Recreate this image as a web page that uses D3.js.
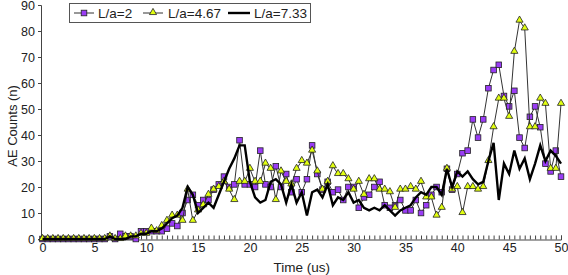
<!DOCTYPE html>
<html>
<head>
<meta charset="utf-8">
<script src="https://cdn.jsdelivr.net/npm/d3@7"></script>
<style>
    body { margin: 0; background: #fff; }
    svg { font-family: Arial, "Liberation Sans", Helvetica, sans-serif; }
</style>
</head>
<body>
<div id="chart"></div>
<script>
// time axis: 0 to 50 us, one sample every 0.5 us
const times = d3.range(0, 50.01, 0.5);

const seriesNames = ["L/a=2", "L/a=4.67", "L/a=7.33"];

const la2 = [0, 0, 0, 0, 0, 0, 0, 0, 0, 0, 0, 0, 0,
    1, 0, 2, 1, 1, 0, 3, 3, 3, 3, 3, 4, 6, 5, 10, 15, 17, 13, 15, 15, 19, 21, 24, 20, 21,
    38, 21, 21, 20, 34, 21, 20, 28, 20, 25, 18, 23, 18, 23, 36, 25, 19, 22, 18, 19, 15,
    20, 20, 12, 16, 17, 20, 22, 13, 12, 13, 15, 11, 11, 15, 10, 13, 17, 20, 18, 27, 19,
    25, 33, 34, 46, 39, 46, 58, 65, 67, 55, 51, 57, 39, 35, 47, 51, 43, 29, 26, 34, 24];

const la467 = [0, 0, 0, 0, 0, 0, 0, 0, 0, 0, 0, 0, 0,
    1, 0, 0, 1, 1, 1, 2, 2, 4, 3, 5, 7, 9, 9, 7, 19, 7, 11, 13, 17, 19, 20, 22, 19, 15,
    22, 22, 27, 22, 22, 29, 27, 15, 26, 22, 21, 27, 30, 29, 34, 26, 19, 22, 28, 25, 25,
    23, 19, 22, 17, 23, 23, 19, 19, 18, 12, 19, 19, 20, 19, 22, 16, 16, 9, 12, 27, 19,
    20, 10, 20, 20, 19, 20, 30, 43, 54, 54, 47, 72, 84, 81, 43, 43, 54, 52, 27, 27, 52];

const la733 = [0, 0, 0, 0, 0, 0, 0, 0, 0, 0, 0, 0, 0,
    1, 0, 0, 0, 1, 1, 2, 2, 3, 3, 4, 6, 8, 9, 12, 20, 17, 10, 12, 14, 12, 17, 22, 27, 31,
    36, 36, 22, 16, 14, 15, 22, 23, 21, 14, 21, 14, 18, 9, 18, 19, 16, 21, 13, 16, 15,
    18, 14, 15, 12, 11, 12, 11, 13, 11, 9, 11, 12, 13, 16, 18, 17, 20, 20, 17, 27, 20,
    26, 24, 26, 23, 21, 22, 30, 37, 15, 29, 25, 34, 27, 31, 23, 29, 36, 30, 34, 32, 29];

const xTicks = d3.range(0, 50.01, 5);
const yTicks = d3.range(0, 90.01, 10);

const width = 568, height = 275;
const margin = {top: 5, right: 7, bottom: 36, left: 42.5};

const svg = d3.select("#chart").append("svg")
    .attr("width", width)
    .attr("height", height);

const x = d3.scaleLinear()
    .domain([0, 50])
    .range([margin.left, width - margin.right]);

const y = d3.scaleLinear()
    .domain([0, 90])
    .range([height - margin.bottom, margin.top]);

// y axis, ticks point outwards
const yAxis = svg.append("g")
    .attr("transform", "translate(" + (margin.left - 1.5) + ",0)")
    .call(d3.axisLeft(y).tickValues(yTicks).tickSize(3).tickPadding(3));
yAxis.select(".domain").attr("stroke", "#444");
yAxis.selectAll(".tick line").attr("stroke", "#444");
yAxis.selectAll("text")
    .attr("font-size", "12.5px")
    .attr("fill", "#222");

// x axis, small ticks at every sample pointing up
const xAxis = svg.append("g")
    .attr("transform", "translate(0," + (y(0) + 0.5) + ")")
    .call(d3.axisBottom(x)
        .tickValues(times)
        .tickSize(-4)
        .tickPadding(4)
        .tickFormat(d => (d % 5 === 0 ? d : "")));
xAxis.select(".domain").attr("stroke", "#444");
xAxis.selectAll(".tick line").attr("stroke", "#444");
xAxis.selectAll("text")
    .attr("font-size", "12.5px")
    .attr("fill", "#222");

svg.append("text")
    .attr("x", x(25))
    .attr("y", 272)
    .attr("text-anchor", "middle")
    .attr("font-size", "13.5px")
    .attr("fill", "#222")
    .text("Time (us)");

svg.append("text")
    .attr("transform", "translate(17," + y(43.5) + ") rotate(-90)")
    .attr("text-anchor", "middle")
    .attr("font-size", "13px")
    .attr("fill", "#222")
    .text("AE Counts (n)");

const line = d3.line()
    .x((d, i) => x(times[i]))
    .y(d => y(d));

const squareColor = "#9a3cf5";
const triColor = "#e2ff10";

// L/a=2
svg.append("path")
    .datum(la2)
    .attr("fill", "none")
    .attr("stroke", "#333")
    .attr("stroke-width", 1)
    .attr("d", line);
svg.append("g").selectAll("rect")
    .data(la2)
    .join("rect")
    .attr("x", (d, i) => x(times[i]) - 2.8)
    .attr("y", d => y(d) - 2.8)
    .attr("width", 5.6)
    .attr("height", 5.6)
    .attr("fill", squareColor)
    .attr("stroke", "#222")
    .attr("stroke-width", 0.8);

// L/a=4.67
const tri = d3.symbol().type(d3.symbolTriangle).size(22);
svg.append("path")
    .datum(la467)
    .attr("fill", "none")
    .attr("stroke", "#333")
    .attr("stroke-width", 1)
    .attr("d", line);
svg.append("g").selectAll("path")
    .data(la467)
    .join("path")
    .attr("transform", (d, i) => "translate(" + x(times[i]) + "," + (y(d) - 0.5) + ")")
    .attr("d", tri)
    .attr("fill", triColor)
    .attr("stroke", "#222")
    .attr("stroke-width", 0.8);

// L/a=7.33
svg.append("path")
    .datum(la733)
    .attr("fill", "none")
    .attr("stroke", "#000")
    .attr("stroke-width", 2.4)
    .attr("stroke-linejoin", "miter")
    .attr("d", line);

// legend
const legend = svg.append("g");
legend.append("rect")
    .attr("x", 69.5)
    .attr("y", 3.5)
    .attr("width", 241)
    .attr("height", 19)
    .attr("fill", "#fff")
    .attr("stroke", "#555")
    .attr("stroke-width", 1);

const legendItems = [
    {name: seriesNames[0], x0: 74, x1: 94, tx: 98, mark: "square"},
    {name: seriesNames[1], x0: 143, x1: 163, tx: 168, mark: "tri"},
    {name: seriesNames[2], x0: 228, x1: 250, tx: 254, mark: "none"}
];
const ly = 13;
legendItems.forEach(function (it) {
    legend.append("line")
        .attr("x1", it.x0).attr("x2", it.x1)
        .attr("y1", ly).attr("y2", ly)
        .attr("stroke", it.mark === "none" ? "#000" : "#333")
        .attr("stroke-width", it.mark === "none" ? 2.4 : 1);
    const cx = (it.x0 + it.x1) / 2;
    if (it.mark === "square") {
        legend.append("rect")
            .attr("x", cx - 2.8).attr("y", ly - 2.8)
            .attr("width", 5.6).attr("height", 5.6)
            .attr("fill", squareColor)
            .attr("stroke", "#222").attr("stroke-width", 0.8);
    } else if (it.mark === "tri") {
        legend.append("path")
            .attr("transform", "translate(" + cx + "," + (ly - 0.5) + ")")
            .attr("d", tri)
            .attr("fill", triColor)
            .attr("stroke", "#222").attr("stroke-width", 0.8);
    }
    legend.append("text")
        .attr("x", it.tx)
        .attr("y", 18)
        .attr("font-size", "13.5px")
        .attr("fill", "#222")
        .text(it.name);
});
</script>
</body>
</html>
